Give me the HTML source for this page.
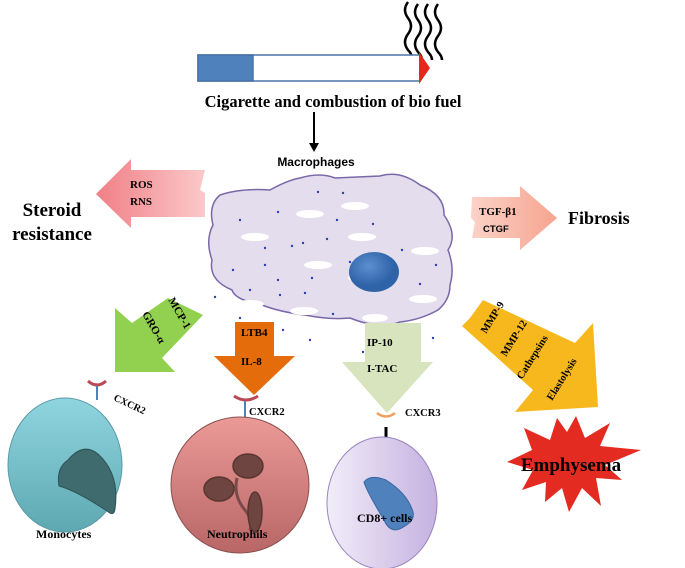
<!DOCTYPE html>
<html><head><style>html,body{margin:0;padding:0;background:#fff}svg{display:block}</style></head><body>
<svg width="685" height="568" viewBox="0 0 685 568" xmlns="http://www.w3.org/2000/svg">
<defs>
<linearGradient id="pinkL" x1="0" x2="1"><stop offset="0" stop-color="#f07f86"/><stop offset="1" stop-color="#fbc9c9"/></linearGradient>
<linearGradient id="pinkR" x1="0" x2="1"><stop offset="0" stop-color="#fbd2c8"/><stop offset="1" stop-color="#f6a48f"/></linearGradient>
<linearGradient id="mono" x1="0" y1="0" x2="0" y2="1"><stop offset="0" stop-color="#8fd5df"/><stop offset="1" stop-color="#5ea8b2"/></linearGradient>
<linearGradient id="neut" x1="0" y1="0" x2="0" y2="1"><stop offset="0" stop-color="#eb9a98"/><stop offset="1" stop-color="#b86666"/></linearGradient>
<linearGradient id="cd8" x1="0" x2="1"><stop offset="0" stop-color="#f1edf8"/><stop offset="1" stop-color="#c5b1e0"/></linearGradient>
<radialGradient id="nuc" cx="0.4" cy="0.35"><stop offset="0" stop-color="#5b8fd0"/><stop offset="1" stop-color="#2f63a8"/></radialGradient>
</defs>
<g fill="none" stroke="#000" stroke-width="2.5">
<path d="M408 2 q-6 8 0 16 q6 8 0 16 q-6 8 0 16 q4 4 4 8"/>
<path d="M418 4 q-6 8 0 16 q6 8 0 16 q-6 8 0 16 q4 4 4 8"/>
<path d="M428 4 q-6 8 0 16 q6 8 0 16 q-6 8 0 16 q4 4 4 8"/>
<path d="M438 4 q-6 8 0 16 q6 8 0 16 q-6 8 0 16 q4 4 4 8"/>
</g>
<rect x="198" y="55" width="222" height="26" fill="#fff" stroke="#4a72a8" stroke-width="1.5"/>
<rect x="198" y="55" width="55" height="26" fill="#4f81bd" stroke="#4a72a8" stroke-width="1.5"/>
<polygon points="419,52 430,68 419,84" fill="#e8261c"/>
<text x="333" y="107" text-anchor="middle" font-family="Liberation Serif,serif" font-weight="bold" font-size="16.5">Cigarette and combustion of bio fuel</text>
<line x1="314" y1="112" x2="314" y2="148" stroke="#000" stroke-width="2"/>
<polygon points="309,143 314,152 319,143" fill="#000"/>
<text x="316" y="166" text-anchor="middle" font-family="Liberation Sans,sans-serif" font-weight="bold" font-size="12">Macrophages</text>
<path d="M300 178 Q320 172 335 178 L380 176 Q400 170 420 185 Q445 195 444 215 Q458 235 448 250 Q455 268 450 285 Q450 300 438 310 Q420 320 400 322 Q380 330 350 318 Q330 320 305 315 Q280 312 262 305 Q235 300 232 290 Q208 280 212 260 Q205 240 213 225 Q208 205 220 195 Q240 188 270 190 Q288 180 300 178 Z" fill="#e3dded" stroke="#7a68a8" stroke-width="1.5"/>
<g fill="#fff">
<ellipse cx="355" cy="206" rx="14" ry="4"/><ellipse cx="310" cy="214" rx="14" ry="4"/><ellipse cx="255" cy="237" rx="14" ry="4"/>
<ellipse cx="362" cy="237" rx="14" ry="4"/><ellipse cx="425" cy="251" rx="14" ry="4"/><ellipse cx="318" cy="265" rx="14" ry="4"/>
<ellipse cx="362" cy="278" rx="14" ry="4"/><ellipse cx="250" cy="304" rx="14" ry="4"/><ellipse cx="304" cy="311" rx="14" ry="4"/>
<ellipse cx="423" cy="299" rx="14" ry="4"/><ellipse cx="375" cy="318" rx="13" ry="4"/>
</g>
<g fill="#3040b0">
<circle cx="318" cy="192" r="1.2"/><circle cx="343" cy="193" r="1.2"/><circle cx="240" cy="220" r="1.2"/><circle cx="278" cy="212" r="1.2"/><circle cx="337" cy="220" r="1.2"/><circle cx="373" cy="224" r="1.2"/><circle cx="303" cy="243" r="1.2"/><circle cx="327" cy="239" r="1.2"/><circle cx="265" cy="248" r="1.2"/><circle cx="292" cy="246" r="1.2"/><circle cx="402" cy="250" r="1.2"/><circle cx="233" cy="270" r="1.2"/><circle cx="265" cy="265" r="1.2"/><circle cx="350" cy="262" r="1.2"/><circle cx="387" cy="262" r="1.2"/><circle cx="436" cy="265" r="1.2"/><circle cx="278" cy="280" r="1.2"/><circle cx="312" cy="278" r="1.2"/><circle cx="388" cy="283" r="1.2"/><circle cx="420" cy="284" r="1.2"/><circle cx="250" cy="290" r="1.2"/><circle cx="280" cy="295" r="1.2"/><circle cx="305" cy="293" r="1.2"/><circle cx="215" cy="297" r="1.2"/><circle cx="240" cy="318" r="1.2"/><circle cx="283" cy="330" r="1.2"/><circle cx="310" cy="340" r="1.2"/><circle cx="333" cy="314" r="1.2"/><circle cx="363" cy="352" r="1.2"/><circle cx="433" cy="338" r="1.2"/>
</g>
<ellipse cx="374" cy="272" rx="25" ry="20" fill="url(#nuc)"/>
<polygon points="96,194 131,159 131,170 205,170 200,190 205,193 205,217 131,217 131,228" fill="url(#pinkL)"/>
<text x="130" y="188" font-family="Liberation Serif,serif" font-weight="bold" font-size="11">ROS</text>
<text x="130" y="205" font-family="Liberation Serif,serif" font-weight="bold" font-size="11">RNS</text>
<text x="52" y="216" text-anchor="middle" font-family="Liberation Serif,serif" font-weight="bold" font-size="19">Steroid</text>
<text x="52" y="240" text-anchor="middle" font-family="Liberation Serif,serif" font-weight="bold" font-size="19">resistance</text>
<polygon points="472,197 520,197 520,186 557,218 520,250 520,238 472,238 475,222 471,218" fill="url(#pinkR)"/>
<text x="479" y="215" font-family="Liberation Serif,serif" font-weight="bold" font-size="11">TGF-β1</text>
<text x="483" y="232" font-family="Liberation Sans,sans-serif" font-weight="bold" font-size="9.5">CTGF</text>
<text x="568" y="224" font-family="Liberation Serif,serif" font-weight="bold" font-size="18">Fibrosis</text>
<!-- green arrow -->
<polygon points="115,372 115,308 132,323 168,298 203,315 162,358 175,372" fill="#92d050"/>
<g font-family="Liberation Serif,serif" font-weight="bold" font-size="11">
<text transform="translate(168,300) rotate(60)">MCP-1</text>
<text transform="translate(142,314) rotate(60)">GRO-α</text>
</g>
<!-- orange arrow -->
<polygon points="235,322 274,322 274,356 295,356 254,395 214,356 235,356" fill="#e46c0a"/>
<text x="241" y="336" font-family="Liberation Serif,serif" font-weight="bold" font-size="11">LTB4</text>
<text x="241" y="365" font-family="Liberation Serif,serif" font-weight="bold" font-size="11">IL-8</text>
<!-- light green arrow -->
<polygon points="365,323 421,323 421,362 433,362 387,413 342,362 365,362" fill="#d7e4bd"/>
<text x="367" y="346" font-family="Liberation Serif,serif" font-weight="bold" font-size="11">IP-10</text>
<text x="367" y="372" font-family="Liberation Serif,serif" font-weight="bold" font-size="11">I-TAC</text>
<!-- yellow arrow -->
<polygon points="462,326 470,318 483,300 575,343 593,323 598,407 515,412 533,390" fill="#f7b81e"/>
<g font-family="Liberation Serif,serif" font-weight="bold" font-size="10.5">
<text transform="translate(486,334) rotate(-58)">MMP-9</text>
<text transform="translate(506,357) rotate(-58)">MMP-12</text>
<text transform="translate(522,380) rotate(-58)">Cathepsins</text>
<text transform="translate(552,401) rotate(-58)">Elastolysis</text>
</g>
<polygon points="576,416 585,438 610,423 600,446 641,450 605,465 622,480 596,478 601,506 582,488 569,512 562,488 545,502 546,482 522,490 533,470 507,462 532,450 524,428 550,440 557,418 567,432" fill="#e32b22"/>
<text x="571" y="471" text-anchor="middle" font-family="Liberation Serif,serif" font-weight="bold" font-size="19">Emphysema</text>
<path d="M88 381 q9 8 18 0" fill="none" stroke="#b84a55" stroke-width="3"/>
<line x1="97" y1="386" x2="97" y2="400" stroke="#4f81bd" stroke-width="2"/>
<text transform="translate(113,400) rotate(25)" font-family="Liberation Serif,serif" font-weight="bold" font-size="10">CXCR2</text>
<ellipse cx="65" cy="465" rx="57" ry="67" fill="url(#mono)" stroke="#5b9aa5" stroke-width="1"/>
<path d="M68 460 q15 -18 30 -6 q22 20 17 55 q-1 8 -8 2 q-30 -20 -48 -25 q-3 -18 9 -26 z" fill="#3f6b6e" stroke="#2c5457" stroke-width="1"/>
<text x="36" y="538" font-family="Liberation Serif,serif" font-weight="bold" font-size="12">Monocytes</text>
<path d="M234 396 q12 8 24 0" fill="none" stroke="#b84a55" stroke-width="3"/>
<line x1="245" y1="401" x2="245" y2="418" stroke="#4f81bd" stroke-width="2"/>
<text x="249" y="415" font-family="Liberation Serif,serif" font-weight="bold" font-size="10.5">CXCR2</text>
<ellipse cx="240" cy="485" rx="69" ry="68" fill="url(#neut)" stroke="#8a5050" stroke-width="1"/>
<g fill="#6e4541" stroke="#5a3530" stroke-width="1.5">
<path d="M237 478 q-4 18 8 32 q8 10 5 20" fill="none" stroke="#7a4a48" stroke-width="3"/>
<ellipse cx="248" cy="466" rx="15" ry="12"/>
<ellipse cx="219" cy="489" rx="15" ry="12"/>
<ellipse cx="255" cy="512" rx="7" ry="20"/>
</g>
<text x="207" y="538" font-family="Liberation Serif,serif" font-weight="bold" font-size="12">Neutrophils</text>
<path d="M377 413 q9 7 18 0" fill="none" stroke="#f0a060" stroke-width="2.5"/>
<text x="405" y="416" font-family="Liberation Serif,serif" font-weight="bold" font-size="10.5">CXCR3</text>
<line x1="386" y1="427" x2="386" y2="450" stroke="#000" stroke-width="3"/>
<ellipse cx="382" cy="503" rx="55" ry="66" fill="url(#cd8)" stroke="#9a85c0" stroke-width="1"/>
<path d="M364 482 q6 -8 22 -2 q22 14 27 32 q2 8 -8 14 q-14 10 -21 -6 q-18 -30 -20 -38 z" fill="#4f81bd" stroke="#3a66a0" stroke-width="1"/>
<text x="357" y="522" font-family="Liberation Serif,serif" font-weight="bold" font-size="12">CD8+ cells</text>
</svg>
</body></html>
